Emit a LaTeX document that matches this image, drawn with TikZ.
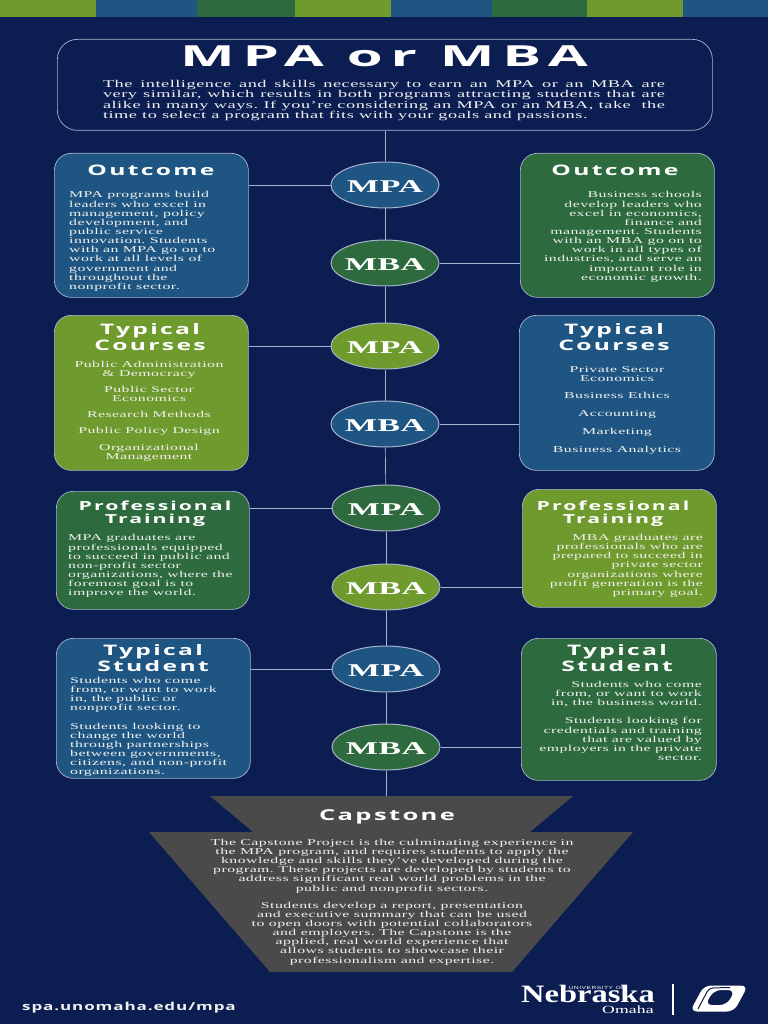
\documentclass[tikz,border=0pt]{standalone}
\usepackage{fontspec}
\usetikzlibrary{shapes.geometric}
\setmainfont[FakeStretch=1.76,LetterSpace=5]{Liberation Serif}
\newfontfamily\titlefont[FakeStretch=2.0,LetterSpace=27]{Open Sans Bold}
\newfontfamily\headfont[FakeStretch=1.7,LetterSpace=16]{Open Sans Bold}
\newfontfamily\urlfont[FakeStretch=1.55,LetterSpace=8]{Open Sans Bold}
\newfontfamily\ovalfont[FakeStretch=1.9,LetterSpace=2]{Liberation Serif Bold}
\newfontfamily\logofont[FakeStretch=1.3]{Liberation Serif Bold}
\newfontfamily\logotown[FakeStretch=1.6,LetterSpace=2]{Liberation Serif}
\newfontfamily\logosmall[FakeStretch=1.5,LetterSpace=10]{Liberation Sans}
\definecolor{navybg}{HTML}{0B1D51}
\definecolor{blueuno}{HTML}{1F5582}
\definecolor{greenuno}{HTML}{2D6A3E}
\definecolor{oliveuno}{HTML}{6F9A2E}
\definecolor{greycap}{HTML}{4A4A4A}
\definecolor{lineuno}{HTML}{A9B4CC}
\definecolor{bodytext}{HTML}{F0F2F0}
\tikzset{
  panel/.style={draw=lineuno,line width=0.7pt,rounded corners=17pt,anchor=north west,inner sep=0pt},
  oval/.style={ellipse,draw=lineuno,line width=1pt,minimum width=108pt,minimum height=46pt,inner sep=-10pt,text height=14.5pt,text=white,font=\ovalfont\fontsize{18}{18}\selectfont},
  head/.style={text=white,align=center,font=\headfont\fontsize{14.5}{15.5}\selectfont},
  subhead/.style={text=white,align=center,font=\headfont\fontsize{12.5}{13}\selectfont},
  body/.style={text=bodytext,font=\fontsize{9}{9.15}\selectfont,inner sep=0pt},
  link/.style={lineuno,line width=0.7pt}
}
\newcommand{\jline}[1]{\hbox to 562pt{#1}}
\frenchspacing
\begin{document}
\begin{tikzpicture}[x=1pt,y=-1pt]
    \fill[navybg] (0,0) rectangle (768,1024);
    \useasboundingbox (0,0) rectangle (768,1024);
    % top strip
    \fill[oliveuno] (0,0) rectangle (96,17);
    \fill[blueuno] (96,0) rectangle (197,17);
    \fill[greenuno] (197,0) rectangle (295,17);
    \fill[oliveuno] (295,0) rectangle (391,17);
    \fill[blueuno] (391,0) rectangle (492,17);
    \fill[greenuno] (492,0) rectangle (587,17);
    \fill[oliveuno] (587,0) rectangle (683,17);
    \fill[blueuno] (683,0) rectangle (768,17);
    % intro
    \node[panel,fill=navybg,minimum width=655pt,minimum height=91pt,rounded corners=20pt] (intro) at (57,39) {};
    \node[text=white,inner sep=0pt,font=\titlefont\fontsize{29}{29}\selectfont] (title) at (384,56) {MPA or MBA};
    \node[body,font=\fontsize{10.4}{10.3}\selectfont,align=left] (introtext) at (384,100.5) {%
      \jline{The intelligence and skills necessary to earn an MPA or an MBA are}\\
      \jline{very similar, which results in both programs attracting students that are}\\
      \jline{alike in many ways. If you're considering an MPA or an MBA, take\ \ the}\\
      time to select a program that fits with your goals and passions.};
    % ovals
    \node[oval,fill=blueuno] (mpaA) at (385,185) {MPA};
    \node[oval,fill=greenuno] (mbaA) at (385,263) {MBA};
    \node[oval,fill=oliveuno] (mpaB) at (385,346) {MPA};
    \node[oval,fill=blueuno] (mbaB) at (385,424) {MBA};
    \node[oval,fill=greenuno] (mpaC) at (386,508) {MPA};
    \node[oval,fill=oliveuno] (mbaC) at (386,587) {MBA};
    \node[oval,fill=blueuno] (mpaD) at (386,669) {MPA};
    \node[oval,fill=greenuno] (mbaD) at (386,747) {MBA};
    % panels
    \node[panel,fill=blueuno,minimum width=194pt,minimum height=144pt] (outL) at (54,153) {};
    \node[panel,fill=greenuno,minimum width=194pt,minimum height=144pt] (outR) at (520,153) {};
    \node[panel,fill=oliveuno,minimum width=194pt,minimum height=155pt] (crsL) at (54,315) {};
    \node[panel,fill=blueuno,minimum width=195pt,minimum height=155pt] (crsR) at (519,315) {};
    \node[panel,fill=greenuno,minimum width=193pt,minimum height=118pt] (proL) at (56,491) {};
    \node[panel,fill=oliveuno,minimum width=194pt,minimum height=118pt] (proR) at (522,489) {};
    \node[panel,fill=blueuno,minimum width=194pt,minimum height=140pt] (stuL) at (56,638) {};
    \node[panel,fill=greenuno,minimum width=195pt,minimum height=142pt] (stuR) at (521,638) {};
    % capstone
    \fill[greycap] (210,796) -- (573,796) -- (530,832) -- (633,832) -- (512,972) -- (270,972) -- (149,832) -- (253,832) -- cycle;
    \coordinate (capTop) at (386,796);
    % connectors
    \draw[link] (intro.south -| mpaA) -- (mpaA);
    \draw[link] (mpaA) -- (mbaA);
    \draw[link] (mbaA) -- (mpaB);
    \draw[link] (mpaB) -- (mbaB);
    \draw[link] (mbaB) -- (mpaC);
    \draw[link] (mpaC) -- (mbaC);
    \draw[link] (mbaC) -- (mpaD);
    \draw[link] (mpaD) -- (mbaD);
    \draw[link] (mbaD) -- (capTop);
    \draw[link] (outL.east |- mpaA) -- (mpaA.west);
    \draw[link] (outR.west |- mbaA) -- (mbaA.east);
    \draw[link] (crsL.east |- mpaB) -- (mpaB.west);
    \draw[link] (crsR.west |- mbaB) -- (mbaB.east);
    \draw[link] (proL.east |- mpaC) -- (mpaC.west);
    \draw[link] (proR.west |- mbaC) -- (mbaC.east);
    \draw[link] (stuL.east |- mpaD) -- (mpaD.west);
    \draw[link] (stuR.west |- mbaD) -- (mbaD.east);
    % headings
    \node[head] (outLh) at (151,170) {Outcome};
    \node[head] (outRh) at (615,170) {Outcome};
    \node[head] (crsLh) at (150,337) {Typical\\Courses};
    \node[head] (crsRh) at (614,337) {Typical\\Courses};
    \node[subhead] (proLh) at (155,514) {Professional\\Training};
    \node[subhead] (proRh) at (613,514) {Professional\\Training};
    \node[head] (stuLh) at (153,658) {Typical\\Student};
    \node[head] (stuRh) at (617,658) {Typical\\Student};
    \node[head,font=\headfont\fontsize{15}{15}\selectfont] (capH) at (387,817) {Capstone};
    % texts
    \node[body,align=left,anchor=north west] (outLt) at (69,191.5) {MPA programs build\\leaders who excel in\\management, policy\\development, and\\public service\\innovation. Students\\with an MPA go on to\\work at all levels of\\government and\\throughout the\\nonprofit sector.};
    \node[body,align=right,anchor=north east] (outRt) at (702,191.5) {Business schools\\develop leaders who\\excel in economics,\\finance and\\management. Students\\with an MBA go on to\\work in all types of\\industries, and serve an\\important role in\\economic growth.};
    \node[body,align=center] (crsLt) at (149,411) {Public Administration\\\& Democracy\\[7pt]Public Sector\\Economics\\[7pt]Research Methods\\[7pt]Public Policy Design\\[7pt]Organizational\\Management};
    \node[body,align=center] (crsRt) at (617,410.5) {Private Sector\\Economics\\[8pt]Business Ethics\\[9pt]Accounting\\[9pt]Marketing\\[9pt]Business Analytics};
    \node[body,align=left,anchor=north west] (proLt) at (68,534.5) {MPA graduates are\\professionals equipped\\to succeed in public and\\non-profit sector\\organizations, where the\\foremost goal is to\\improve the world.};
    \node[body,align=right,anchor=north east] (proRt) at (703,534) {MBA graduates are\\professionals who are\\prepared to succeed in\\private sector\\organizations where\\profit generation is the\\primary goal.};
    \node[body,align=left,anchor=north west] (stuLt) at (70,677) {Students who come\\from, or want to work\\in, the public or\\nonprofit sector.\\[9pt]Students looking to\\change the world\\through partnerships\\between governments,\\citizens, and non-profit\\organizations.};
    \node[body,align=right,anchor=north east] (stuRt) at (702,681) {Students who come\\from, or want to work\\in, the business world.\\[9pt]Students looking for\\credentials and training\\that are valued by\\employers in the private\\sector.};
    \node[body,align=center] (capT) at (392,902) {The Capstone Project is the culminating experience in\\the MPA program, and requires students to apply the\\knowledge and skills they've developed during the\\program. These projects are developed by students to\\address significant real world problems in the\\public and nonprofit sectors.\\[8pt]Students develop a report, presentation\\and executive summary that can be used\\to open doors with potential collaborators\\and employers. The Capstone is the\\applied, real world experience that\\allows students to showcase their\\professionalism and expertise.};
    % footer
    \node[text=bodytext,anchor=west,inner sep=0pt,font=\urlfont\fontsize{11}{11}\selectfont] (url) at (22,1008) {spa.unomaha.edu/mpa};
    \node[text=white,anchor=base east,inner sep=0pt,font=\logofont\fontsize{25}{25}\selectfont] (logoA) at (655,1002) {Nebraska};
    \node[text=white,anchor=base east,inner sep=0pt,font=\logotown\fontsize{11}{11}\selectfont] (logoB) at (654,1013) {Omaha};
    \node[text=white,anchor=center,inner sep=0pt,font=\logosmall\fontsize{4.5}{5}\selectfont] (logoC) at (597,988) {UNIVERSITY OF};
    \draw[white,line width=1.2pt] (673,984) -- (673,1015);
    \fill[white,even odd rule,rounded corners=7pt] (690,1011.5) -- (704,985.5) -- (748,985.5) -- (734,1011.5) -- cycle
      (705,1005) -- (714,990) -- (735,990) -- (727,1005) -- cycle;
    \draw[navybg,line width=1pt,rounded corners=4pt] (698,1009) -- (709,988) -- (730,987.5);
\end{tikzpicture}
\end{document}
